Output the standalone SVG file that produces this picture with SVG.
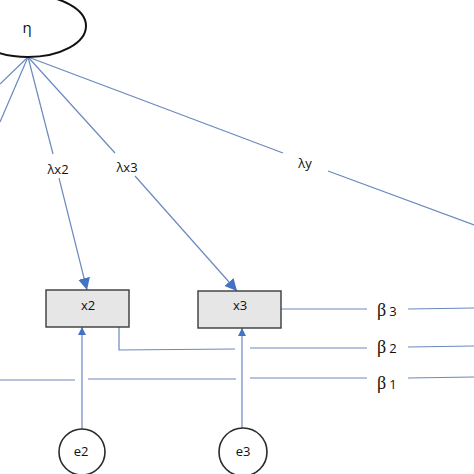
<svg xmlns="http://www.w3.org/2000/svg" width="474" height="474" viewBox="0 0 474 474">
<defs>
<style>
.ln{stroke:#6a88be;stroke-width:1.2;fill:none}
.box{fill:#e6e6e6;stroke:#3a3a3a;stroke-width:1.4}
.circ{fill:#fff;stroke:#2a2a2a;stroke-width:1.6}
.t{font-family:"Open Sans","Liberation Sans",sans-serif;font-size:13px;fill:#111;text-anchor:middle;dominant-baseline:central}
.g{font-family:"Liberation Serif","DejaVu Serif",serif;font-size:18px;fill:#111}
.n{font-family:"Open Sans","Liberation Sans",sans-serif;font-size:13px;fill:#111}
</style>
<marker id="big" viewBox="0 0 10 10" refX="10" refY="5" markerWidth="12" markerHeight="12" markerUnits="userSpaceOnUse" orient="auto">
<path d="M0,0 L10,5 L0,10 z" fill="#4472c4"/>
</marker>
<marker id="small" viewBox="0 0 10 10" refX="10" refY="5" markerWidth="8" markerHeight="8" markerUnits="userSpaceOnUse" orient="auto">
<path d="M0,0 L10,5 L0,10 z" fill="#4472c4"/>
</marker>
</defs>
<g id="connectors">
<line class="ln" x1="28" y1="57" x2="0" y2="84"/>
<line class="ln" x1="28" y1="57" x2="0" y2="122"/>
<line class="ln" x1="28" y1="57" x2="53" y2="154"/>
<line class="ln" x1="59" y1="178" x2="87" y2="290" marker-end="url(#big)"/>
<line class="ln" x1="28" y1="57" x2="115" y2="153"/>
<line class="ln" x1="135" y1="176" x2="237" y2="291" marker-end="url(#big)"/>
<line class="ln" x1="28" y1="57" x2="283" y2="153"/>
<line class="ln" x1="328" y1="171" x2="474" y2="225"/>
<line class="ln" x1="82" y1="429" x2="82" y2="327" marker-end="url(#small)"/>
<line class="ln" x1="242" y1="428" x2="242" y2="328" marker-end="url(#small)"/>
<line class="ln" x1="281" y1="309" x2="367" y2="309"/>
<line class="ln" x1="408" y1="309" x2="474" y2="308"/>
<polyline class="ln" points="119,323 119,350 235,349"/>
<line class="ln" x1="250" y1="348" x2="367" y2="348"/>
<line class="ln" x1="408" y1="347" x2="474" y2="346"/>
<line class="ln" x1="0" y1="380" x2="75" y2="380"/>
<line class="ln" x1="88" y1="379" x2="236" y2="379"/>
<line class="ln" x1="250" y1="378" x2="367" y2="378"/>
<line class="ln" x1="408" y1="378" x2="474" y2="377"/>
</g>
<g id="eta">
<ellipse cx="28" cy="26" rx="58" ry="31" fill="#fff" stroke="#111" stroke-width="2"/>
<text class="t" x="27" y="27" style="font-size:15px">η</text>
</g>
<g id="x2">
<rect class="box" x="46" y="290" width="83" height="37"/>
<text class="t" x="88" y="305">x2</text>
</g>
<g id="x3">
<rect class="box" x="198" y="291" width="83" height="37"/>
<text class="t" x="240" y="305">x3</text>
</g>
<g id="e2">
<circle class="circ" cx="82" cy="452" r="23"/>
<text class="t" x="81" y="451">e2</text>
</g>
<g id="e3">
<circle class="circ" cx="243" cy="452" r="24"/>
<text class="t" x="243" y="451">e3</text>
</g>
<g id="labels">
<text class="t" x="58" y="169">λx2</text>
<text class="t" x="127" y="167">λx3</text>
<text class="t" x="305" y="163">λy</text>
<text x="377" y="316"><tspan class="g">β</tspan><tspan class="n" dx="3">3</tspan></text>
<text x="377" y="353"><tspan class="g">β</tspan><tspan class="n" dx="3">2</tspan></text>
<text x="377" y="389"><tspan class="g">β</tspan><tspan class="n" dx="3">1</tspan></text>
</g>
</svg>
